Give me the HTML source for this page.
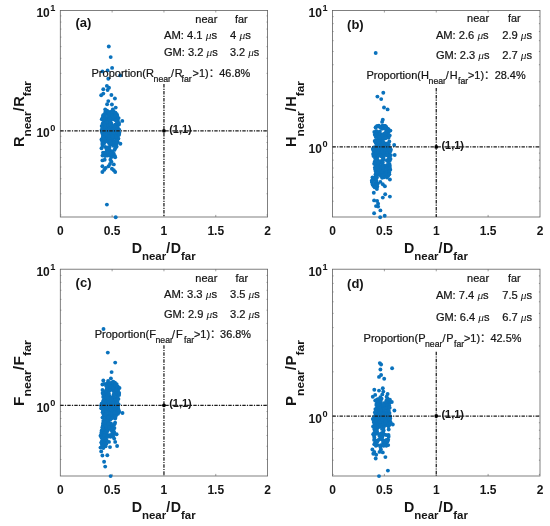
<!DOCTYPE html>
<html lang="en"><head><meta charset="utf-8"><title>Figure</title>
<style>
html,body{margin:0;padding:0;background:#fff;}
svg{display:block;font-family:"Liberation Sans", sans-serif;fill:#151515;}
.t{stroke:#151515;stroke-width:0.22px;}
</style></head><body>
<svg width="550" height="526" viewBox="0 0 550 526">
<rect width="550" height="526" fill="#fff"/>
<g id="panel-a">
<rect x="60.3" y="10.4" width="207.3" height="206.6" fill="none" stroke="#606060" stroke-width="0.8"/>
<path d="M112.12 217v-2.1M112.12 10.4v2.1M163.95 217v-2.1M163.95 10.4v2.1M215.78 217v-2.1M215.78 10.4v2.1M60.3 214.96h1.1M267.6 214.96h-1.1M60.3 193.75h1.1M267.6 193.75h-1.1M60.3 178.71h1.1M267.6 178.71h-1.1M60.3 167.04h1.1M267.6 167.04h-1.1M60.3 157.51h1.1M267.6 157.51h-1.1M60.3 149.45h1.1M267.6 149.45h-1.1M60.3 142.47h1.1M267.6 142.47h-1.1M60.3 136.31h1.1M267.6 136.31h-1.1M60.3 130.8h2.1M267.6 130.8h-2.1M60.3 94.56h1.1M267.6 94.56h-1.1M60.3 73.35h1.1M267.6 73.35h-1.1M60.3 58.31h1.1M267.6 58.31h-1.1M60.3 46.64h1.1M267.6 46.64h-1.1M60.3 37.11h1.1M267.6 37.11h-1.1M60.3 29.05h1.1M267.6 29.05h-1.1M60.3 22.07h1.1M267.6 22.07h-1.1M60.3 15.91h1.1M267.6 15.91h-1.1" stroke="#606060" stroke-width="0.6" fill="none"/>
<g fill="#0a72bd">
<circle cx="110.1" cy="131.4" r="1.95"/>
<circle cx="117.7" cy="130.6" r="1.95"/>
<circle cx="104.1" cy="154.3" r="1.95"/>
<circle cx="103.9" cy="130.2" r="1.95"/>
<circle cx="108.8" cy="133.6" r="1.95"/>
<circle cx="104.2" cy="121.3" r="1.95"/>
<circle cx="105.5" cy="111.6" r="1.95"/>
<circle cx="117.8" cy="136.4" r="1.95"/>
<circle cx="113.4" cy="119.2" r="1.95"/>
<circle cx="101.7" cy="126" r="1.95"/>
<circle cx="115.2" cy="143.5" r="1.95"/>
<circle cx="117.6" cy="141.6" r="1.95"/>
<circle cx="105.8" cy="137.8" r="1.95"/>
<circle cx="110.3" cy="137.9" r="1.95"/>
<circle cx="102.9" cy="136" r="1.95"/>
<circle cx="107.4" cy="130.9" r="1.95"/>
<circle cx="110.7" cy="128.8" r="1.95"/>
<circle cx="110" cy="112" r="1.95"/>
<circle cx="107.8" cy="118.5" r="1.95"/>
<circle cx="110.3" cy="156" r="1.95"/>
<circle cx="111.9" cy="131.9" r="1.95"/>
<circle cx="105" cy="136" r="1.95"/>
<circle cx="117.1" cy="134.6" r="1.95"/>
<circle cx="107" cy="126.6" r="1.95"/>
<circle cx="111.1" cy="139.5" r="1.95"/>
<circle cx="114.1" cy="114.5" r="1.95"/>
<circle cx="101.5" cy="139.5" r="1.95"/>
<circle cx="106.7" cy="113.9" r="1.95"/>
<circle cx="102.8" cy="123.3" r="1.95"/>
<circle cx="114.9" cy="131.7" r="1.95"/>
<circle cx="106.2" cy="132.5" r="1.95"/>
<circle cx="110.4" cy="120.3" r="1.95"/>
<circle cx="102.3" cy="143.9" r="1.95"/>
<circle cx="114.2" cy="135.8" r="1.95"/>
<circle cx="104" cy="140.6" r="1.95"/>
<circle cx="107.8" cy="137.3" r="1.95"/>
<circle cx="106.2" cy="139.8" r="1.95"/>
<circle cx="106" cy="154.1" r="1.95"/>
<circle cx="115.7" cy="129.9" r="1.95"/>
<circle cx="114.8" cy="134.2" r="1.95"/>
<circle cx="103.5" cy="125.8" r="1.95"/>
<circle cx="106.6" cy="120.5" r="1.95"/>
<circle cx="116" cy="138.4" r="1.95"/>
<circle cx="117.8" cy="127.7" r="1.95"/>
<circle cx="106.6" cy="124.1" r="1.95"/>
<circle cx="118.4" cy="138.6" r="1.95"/>
<circle cx="105.2" cy="147" r="1.95"/>
<circle cx="107.5" cy="155.5" r="1.95"/>
<circle cx="114.4" cy="141.2" r="1.95"/>
<circle cx="119" cy="124.6" r="1.95"/>
<circle cx="104.5" cy="114" r="1.95"/>
<circle cx="111.3" cy="113.9" r="1.95"/>
<circle cx="110" cy="150.5" r="1.95"/>
<circle cx="102.5" cy="133.8" r="1.95"/>
<circle cx="116.8" cy="114.2" r="1.95"/>
<circle cx="117.4" cy="125.4" r="1.95"/>
<circle cx="111.3" cy="135.7" r="1.95"/>
<circle cx="113.5" cy="129.9" r="1.95"/>
<circle cx="110.8" cy="133.8" r="1.95"/>
<circle cx="104.3" cy="133.5" r="1.95"/>
<circle cx="102.6" cy="146" r="1.95"/>
<circle cx="114.5" cy="149.9" r="1.95"/>
<circle cx="106.8" cy="134.4" r="1.95"/>
<circle cx="109" cy="153.4" r="1.95"/>
<circle cx="113.1" cy="138.6" r="1.95"/>
<circle cx="117.7" cy="120.2" r="1.95"/>
<circle cx="111.8" cy="125" r="1.95"/>
<circle cx="105.8" cy="129.1" r="1.95"/>
<circle cx="112.4" cy="151.4" r="1.95"/>
<circle cx="105.8" cy="118.5" r="1.95"/>
<circle cx="107.1" cy="110.8" r="1.95"/>
<circle cx="108.1" cy="150.4" r="1.95"/>
<circle cx="112.1" cy="144.6" r="1.95"/>
<circle cx="110" cy="145.1" r="1.95"/>
<circle cx="111.2" cy="117.7" r="1.95"/>
<circle cx="113.7" cy="111.6" r="1.95"/>
<circle cx="115.1" cy="124.8" r="1.95"/>
<circle cx="110" cy="115.3" r="1.95"/>
<circle cx="112" cy="153.1" r="1.95"/>
<circle cx="116" cy="117.7" r="1.95"/>
<circle cx="102.3" cy="141.4" r="1.95"/>
<circle cx="101.9" cy="132" r="1.95"/>
<circle cx="105.1" cy="116.1" r="1.95"/>
<circle cx="113.1" cy="155.5" r="1.95"/>
<circle cx="112.2" cy="126.8" r="1.95"/>
<circle cx="108.5" cy="141.3" r="1.95"/>
<circle cx="115.2" cy="145.4" r="1.95"/>
<circle cx="117.2" cy="132.3" r="1.95"/>
<circle cx="102.5" cy="127.8" r="1.95"/>
<circle cx="115.7" cy="127.4" r="1.95"/>
<circle cx="102.8" cy="117.5" r="1.95"/>
<circle cx="111.2" cy="122.9" r="1.95"/>
<circle cx="115.3" cy="148.3" r="1.95"/>
<circle cx="109.4" cy="147.4" r="1.95"/>
<circle cx="109.8" cy="126.2" r="1.95"/>
<circle cx="104.9" cy="123.5" r="1.95"/>
<circle cx="108.2" cy="116.7" r="1.95"/>
<circle cx="106.5" cy="151.7" r="1.95"/>
<circle cx="105.1" cy="156.1" r="1.95"/>
<circle cx="102.5" cy="155.6" r="1.95"/>
<circle cx="107.9" cy="128.6" r="1.95"/>
<circle cx="104" cy="143.4" r="1.95"/>
<circle cx="108.4" cy="123.2" r="1.95"/>
<circle cx="119.4" cy="132.7" r="1.95"/>
<circle cx="116.6" cy="146.5" r="1.95"/>
<circle cx="112.2" cy="141.3" r="1.95"/>
<circle cx="108.9" cy="143" r="1.95"/>
<circle cx="113.3" cy="145.8" r="1.95"/>
<circle cx="112.6" cy="115.9" r="1.95"/>
<circle cx="108.7" cy="114.1" r="1.95"/>
<circle cx="102.7" cy="137.8" r="1.95"/>
<circle cx="103" cy="152.8" r="1.95"/>
<circle cx="109.3" cy="136.2" r="1.95"/>
<circle cx="116.6" cy="123.7" r="1.95"/>
<circle cx="113.3" cy="143" r="1.95"/>
<circle cx="113.9" cy="117.2" r="1.95"/>
<circle cx="109.6" cy="118.7" r="1.95"/>
<circle cx="118.6" cy="118.1" r="1.95"/>
<circle cx="115.6" cy="120.2" r="1.95"/>
<circle cx="117.3" cy="115.9" r="1.95"/>
<circle cx="108.6" cy="139.5" r="1.95"/>
<circle cx="104.8" cy="152.6" r="1.95"/>
<circle cx="105.2" cy="127" r="1.95"/>
<circle cx="117.4" cy="122.1" r="1.95"/>
<circle cx="108.5" cy="120.5" r="1.95"/>
<circle cx="103.1" cy="115.3" r="1.95"/>
<circle cx="105.8" cy="141.5" r="1.95"/>
<circle cx="107.5" cy="147.5" r="1.95"/>
<circle cx="111.9" cy="111.4" r="1.95"/>
<circle cx="113.8" cy="128.1" r="1.95"/>
<circle cx="116.9" cy="140" r="1.95"/>
<circle cx="119.1" cy="134.8" r="1.95"/>
<circle cx="101.7" cy="129.8" r="1.95"/>
<circle cx="110.7" cy="143" r="1.95"/>
<circle cx="101.5" cy="148.2" r="1.95"/>
<circle cx="103.7" cy="119.6" r="1.95"/>
<circle cx="112.6" cy="134.5" r="1.95"/>
<circle cx="113.8" cy="153.7" r="1.95"/>
<circle cx="114.2" cy="126.3" r="1.95"/>
<circle cx="115.5" cy="112.8" r="1.95"/>
<circle cx="108.3" cy="125.2" r="1.95"/>
<circle cx="119.2" cy="129.6" r="1.95"/>
<circle cx="101.8" cy="119.3" r="1.95"/>
<circle cx="115.8" cy="136.6" r="1.95"/>
<circle cx="114.8" cy="156" r="1.95"/>
<circle cx="108.2" cy="112.2" r="1.95"/>
<circle cx="115.5" cy="115.5" r="1.95"/>
<circle cx="110.3" cy="141.1" r="1.95"/>
<circle cx="109.7" cy="121.9" r="1.95"/>
<circle cx="106.9" cy="122.3" r="1.95"/>
<circle cx="104.2" cy="138.9" r="1.95"/>
<circle cx="106.8" cy="149.2" r="1.95"/>
<circle cx="116.9" cy="143.3" r="1.95"/>
<circle cx="111.9" cy="156.9" r="1.95"/>
<circle cx="113.5" cy="132.9" r="1.95"/>
<circle cx="112.7" cy="136.8" r="1.95"/>
<circle cx="110.7" cy="154.3" r="1.95"/>
<circle cx="109" cy="130.1" r="1.95"/>
<circle cx="119" cy="122.9" r="1.95"/>
<circle cx="110.2" cy="124.4" r="1.95"/>
<circle cx="108.8" cy="46.5" r="1.95"/>
<circle cx="110.7" cy="57.1" r="1.95"/>
<circle cx="112.1" cy="67.9" r="1.95"/>
<circle cx="107.6" cy="70.4" r="1.95"/>
<circle cx="102.4" cy="71.4" r="1.95"/>
<circle cx="120.2" cy="75.4" r="1.95"/>
<circle cx="108.3" cy="78.8" r="1.95"/>
<circle cx="106.9" cy="85.9" r="1.95"/>
<circle cx="109" cy="87.8" r="1.95"/>
<circle cx="103.3" cy="89.2" r="1.95"/>
<circle cx="107.6" cy="90" r="1.95"/>
<circle cx="103.3" cy="93.6" r="1.95"/>
<circle cx="101.2" cy="95.2" r="1.95"/>
<circle cx="111.4" cy="95" r="1.95"/>
<circle cx="114.9" cy="98.5" r="1.95"/>
<circle cx="108.3" cy="101.1" r="1.95"/>
<circle cx="107.1" cy="104.2" r="1.95"/>
<circle cx="111.9" cy="104.5" r="1.95"/>
<circle cx="115.7" cy="107.6" r="1.95"/>
<circle cx="105.2" cy="109.5" r="1.95"/>
<circle cx="112.8" cy="109.5" r="1.95"/>
<circle cx="122.3" cy="120.9" r="1.95"/>
<circle cx="120.4" cy="143.7" r="1.95"/>
<circle cx="115.2" cy="157.3" r="1.95"/>
<circle cx="102.4" cy="160.4" r="1.95"/>
<circle cx="104.7" cy="159.7" r="1.95"/>
<circle cx="110.4" cy="159.7" r="1.95"/>
<circle cx="111.4" cy="161.6" r="1.95"/>
<circle cx="110" cy="164" r="1.95"/>
<circle cx="113.8" cy="164.4" r="1.95"/>
<circle cx="102.4" cy="166.3" r="1.95"/>
<circle cx="108.5" cy="166.3" r="1.95"/>
<circle cx="105.7" cy="168" r="1.95"/>
<circle cx="111.9" cy="168.7" r="1.95"/>
<circle cx="104.3" cy="169.7" r="1.95"/>
<circle cx="113.8" cy="170.2" r="1.95"/>
<circle cx="102.4" cy="172" r="1.95"/>
<circle cx="115.2" cy="172" r="1.95"/>
<circle cx="106.9" cy="204.6" r="1.95"/>
<circle cx="115.7" cy="217.2" r="1.95"/>
</g>
<path d="M60.3 130.8H267.6M163.95 84.1V217" stroke="#1c1c1c" stroke-width="1.25" stroke-dasharray="3.4 1.2 1.2 1.2" fill="none"/>
<circle cx="163.95" cy="130.8" r="1.9" fill="#000"/>
<text x="169.15" y="132.8" font-size="11" font-weight="bold" textLength="22.6" lengthAdjust="spacingAndGlyphs">(1,1)</text>
<text x="60.3" y="234.5" font-size="12" font-weight="bold" text-anchor="middle">0</text>
<text x="112.12" y="234.5" font-size="12" font-weight="bold" text-anchor="middle">0.5</text>
<text x="163.95" y="234.5" font-size="12" font-weight="bold" text-anchor="middle">1</text>
<text x="215.78" y="234.5" font-size="12" font-weight="bold" text-anchor="middle">1.5</text>
<text x="267.6" y="234.5" font-size="12" font-weight="bold" text-anchor="middle">2</text>
<text x="36.4" y="16.9" font-size="12" font-weight="bold">10<tspan font-size="9.2" dx="0.5" dy="-6">1</tspan></text>
<text x="36.4" y="137.3" font-size="12" font-weight="bold">10<tspan font-size="9.2" dx="0.5" dy="-6">0</tspan></text>
<text x="131.65" y="253.2" font-size="14" font-weight="bold" textLength="64" lengthAdjust="spacingAndGlyphs">D<tspan font-size="11.3" dy="7.2">near</tspan><tspan dy="-7.2">/<tspan dx="0.5">D</tspan></tspan><tspan font-size="11.3" dy="7.2">far</tspan></text>
<text transform="translate(24.1 147.1) rotate(-90)" font-size="14" font-weight="bold" textLength="66" lengthAdjust="spacingAndGlyphs">R<tspan font-size="11.3" dy="7.2">near</tspan><tspan dy="-7.2">/<tspan dx="0.5">R</tspan></tspan><tspan font-size="11.3" dy="7.2">far</tspan></text>
<text x="75.4" y="26.9" font-size="13" font-weight="bold">(a)</text>
<g class="t">
<text x="195.3" y="22.8" font-size="10.67" textLength="22" lengthAdjust="spacingAndGlyphs">near</text>
<text x="234.9" y="22.8" font-size="10.67" textLength="12.6" lengthAdjust="spacingAndGlyphs">far</text>
<text x="163.9" y="38.8" font-size="10.67" textLength="53.2" lengthAdjust="spacingAndGlyphs">AM: 4.1 <tspan font-family="'Liberation Serif', serif" font-style="italic" font-size="10.9" stroke="none">μ</tspan>s</text>
<text x="230" y="38.8" font-size="10.67" textLength="20.8" lengthAdjust="spacingAndGlyphs">4 <tspan font-family="'Liberation Serif', serif" font-style="italic" font-size="10.9" stroke="none">μ</tspan>s</text>
<text x="163.9" y="55.8" font-size="10.67" textLength="53.8" lengthAdjust="spacingAndGlyphs">GM: 3.2 <tspan font-family="'Liberation Serif', serif" font-style="italic" font-size="10.9" stroke="none">μ</tspan>s</text>
<text x="230" y="55.8" font-size="10.67" textLength="29.2" lengthAdjust="spacingAndGlyphs">3.2 <tspan font-family="'Liberation Serif', serif" font-style="italic" font-size="10.9" stroke="none">μ</tspan>s</text>
<text y="77.1" font-size="10.9"><tspan x="91.5" textLength="62.52" lengthAdjust="spacingAndGlyphs">Proportion(R</tspan><tspan x="153.6" dy="4.9" font-size="8.7">near</tspan><tspan x="170.9" dy="-4.9">/<tspan dx="0.9">R</tspan></tspan><tspan x="181.6" dy="4.9" font-size="8.7">far</tspan><tspan x="192.6" dy="-4.9">&gt;1)<tspan font-family="'Liberation Sans', 'Noto Sans CJK SC', sans-serif">：</tspan></tspan><tspan x="219.3">46.8%</tspan></text>
</g>
</g>
<g id="panel-b">
<rect x="332.5" y="10.4" width="207.5" height="206.6" fill="none" stroke="#606060" stroke-width="0.8"/>
<path d="M384.38 217v-2.1M384.38 10.4v2.1M436.25 217v-2.1M436.25 10.4v2.1M488.12 217v-2.1M488.12 10.4v2.1M332.5 201.22h1.1M540 201.22h-1.1M332.5 187.99h1.1M540 187.99h-1.1M332.5 177.18h1.1M540 177.18h-1.1M332.5 168.04h1.1M540 168.04h-1.1M332.5 160.13h1.1M540 160.13h-1.1M332.5 153.15h1.1M540 153.15h-1.1M332.5 146.9h2.1M540 146.9h-2.1M332.5 105.81h1.1M540 105.81h-1.1M332.5 81.77h1.1M540 81.77h-1.1M332.5 64.72h1.1M540 64.72h-1.1M332.5 51.49h1.1M540 51.49h-1.1M332.5 40.68h1.1M540 40.68h-1.1M332.5 31.54h1.1M540 31.54h-1.1M332.5 23.63h1.1M540 23.63h-1.1M332.5 16.65h1.1M540 16.65h-1.1" stroke="#606060" stroke-width="0.6" fill="none"/>
<g fill="#0a72bd">
<circle cx="389.5" cy="164.1" r="1.95"/>
<circle cx="383.8" cy="133.9" r="1.95"/>
<circle cx="380.3" cy="146.2" r="1.95"/>
<circle cx="387" cy="177.6" r="1.95"/>
<circle cx="380.6" cy="139.6" r="1.95"/>
<circle cx="381.1" cy="142.3" r="1.95"/>
<circle cx="379.2" cy="172.2" r="1.95"/>
<circle cx="382.5" cy="154.9" r="1.95"/>
<circle cx="377.9" cy="132.8" r="1.95"/>
<circle cx="382.1" cy="177.8" r="1.95"/>
<circle cx="385.9" cy="135.1" r="1.95"/>
<circle cx="387.2" cy="173" r="1.95"/>
<circle cx="387.9" cy="166.9" r="1.95"/>
<circle cx="381" cy="153.3" r="1.95"/>
<circle cx="381.7" cy="173.9" r="1.95"/>
<circle cx="381.9" cy="169.1" r="1.95"/>
<circle cx="383.4" cy="173.7" r="1.95"/>
<circle cx="387" cy="151.1" r="1.95"/>
<circle cx="375.6" cy="142.6" r="1.95"/>
<circle cx="377.6" cy="136.5" r="1.95"/>
<circle cx="387.5" cy="128.7" r="1.95"/>
<circle cx="375.7" cy="171.4" r="1.95"/>
<circle cx="380.1" cy="163.1" r="1.95"/>
<circle cx="374.7" cy="161.7" r="1.95"/>
<circle cx="381.3" cy="137.4" r="1.95"/>
<circle cx="372.8" cy="149" r="1.95"/>
<circle cx="383.8" cy="146.2" r="1.95"/>
<circle cx="375.8" cy="148.9" r="1.95"/>
<circle cx="376.2" cy="156.5" r="1.95"/>
<circle cx="384.7" cy="167.4" r="1.95"/>
<circle cx="379.8" cy="131.4" r="1.95"/>
<circle cx="375.8" cy="137" r="1.95"/>
<circle cx="382.4" cy="149.9" r="1.95"/>
<circle cx="383.7" cy="128.3" r="1.95"/>
<circle cx="388.8" cy="144.8" r="1.95"/>
<circle cx="389.7" cy="160.8" r="1.95"/>
<circle cx="379.9" cy="151" r="1.95"/>
<circle cx="379" cy="174.5" r="1.95"/>
<circle cx="387.7" cy="146.3" r="1.95"/>
<circle cx="385.1" cy="175.8" r="1.95"/>
<circle cx="386.3" cy="126.9" r="1.95"/>
<circle cx="378.7" cy="149.5" r="1.95"/>
<circle cx="389.1" cy="130.7" r="1.95"/>
<circle cx="373.8" cy="147.4" r="1.95"/>
<circle cx="373.1" cy="153.9" r="1.95"/>
<circle cx="390.9" cy="149.7" r="1.95"/>
<circle cx="380.6" cy="127.2" r="1.95"/>
<circle cx="384.1" cy="171.7" r="1.95"/>
<circle cx="374.6" cy="152.3" r="1.95"/>
<circle cx="387.9" cy="170.1" r="1.95"/>
<circle cx="388" cy="136.1" r="1.95"/>
<circle cx="374.9" cy="167.6" r="1.95"/>
<circle cx="381.6" cy="160.9" r="1.95"/>
<circle cx="378.1" cy="139.6" r="1.95"/>
<circle cx="380.6" cy="171.1" r="1.95"/>
<circle cx="389.3" cy="141.5" r="1.95"/>
<circle cx="388.7" cy="158.5" r="1.95"/>
<circle cx="376.8" cy="175.7" r="1.95"/>
<circle cx="379.1" cy="144.7" r="1.95"/>
<circle cx="380.9" cy="134.3" r="1.95"/>
<circle cx="388.6" cy="137.8" r="1.95"/>
<circle cx="379.6" cy="168.6" r="1.95"/>
<circle cx="387.4" cy="164.9" r="1.95"/>
<circle cx="377.1" cy="158.1" r="1.95"/>
<circle cx="385.8" cy="144.8" r="1.95"/>
<circle cx="387.9" cy="148.4" r="1.95"/>
<circle cx="384.4" cy="143.2" r="1.95"/>
<circle cx="379" cy="165.7" r="1.95"/>
<circle cx="389.9" cy="148.1" r="1.95"/>
<circle cx="388.3" cy="132.6" r="1.95"/>
<circle cx="377.7" cy="169.4" r="1.95"/>
<circle cx="376" cy="150.8" r="1.95"/>
<circle cx="381.9" cy="128.8" r="1.95"/>
<circle cx="389.2" cy="152.9" r="1.95"/>
<circle cx="386" cy="171.4" r="1.95"/>
<circle cx="384.8" cy="136.6" r="1.95"/>
<circle cx="379.1" cy="141.2" r="1.95"/>
<circle cx="380.3" cy="148" r="1.95"/>
<circle cx="389" cy="155" r="1.95"/>
<circle cx="383.7" cy="159.3" r="1.95"/>
<circle cx="385" cy="154.1" r="1.95"/>
<circle cx="378.1" cy="153.7" r="1.95"/>
<circle cx="388.1" cy="161.8" r="1.95"/>
<circle cx="387" cy="143.5" r="1.95"/>
<circle cx="385.2" cy="151.5" r="1.95"/>
<circle cx="386.5" cy="153" r="1.95"/>
<circle cx="382.8" cy="157.8" r="1.95"/>
<circle cx="377.6" cy="160.1" r="1.95"/>
<circle cx="383.5" cy="138.7" r="1.95"/>
<circle cx="375.5" cy="164.8" r="1.95"/>
<circle cx="376.1" cy="162.8" r="1.95"/>
<circle cx="380.9" cy="175.9" r="1.95"/>
<circle cx="384.6" cy="165.6" r="1.95"/>
<circle cx="390.5" cy="159" r="1.95"/>
<circle cx="378.7" cy="135" r="1.95"/>
<circle cx="375" cy="154.5" r="1.95"/>
<circle cx="389.2" cy="172.5" r="1.95"/>
<circle cx="382.1" cy="172.2" r="1.95"/>
<circle cx="382.3" cy="164.1" r="1.95"/>
<circle cx="383" cy="141.4" r="1.95"/>
<circle cx="376.3" cy="140.2" r="1.95"/>
<circle cx="389.8" cy="165.8" r="1.95"/>
<circle cx="388.2" cy="175.8" r="1.95"/>
<circle cx="377.2" cy="166.9" r="1.95"/>
<circle cx="375.2" cy="169.5" r="1.95"/>
<circle cx="383.9" cy="169.6" r="1.95"/>
<circle cx="377.1" cy="125.9" r="1.95"/>
<circle cx="381.1" cy="166.7" r="1.95"/>
<circle cx="383.4" cy="152.7" r="1.95"/>
<circle cx="386.1" cy="129.9" r="1.95"/>
<circle cx="386.6" cy="168.2" r="1.95"/>
<circle cx="383.8" cy="148.2" r="1.95"/>
<circle cx="382.8" cy="167.5" r="1.95"/>
<circle cx="376" cy="147" r="1.95"/>
<circle cx="386.5" cy="131.7" r="1.95"/>
<circle cx="390.8" cy="155.1" r="1.95"/>
<circle cx="379.8" cy="154.9" r="1.95"/>
<circle cx="376.6" cy="131.1" r="1.95"/>
<circle cx="385.5" cy="138.3" r="1.95"/>
<circle cx="376.9" cy="134.7" r="1.95"/>
<circle cx="376.4" cy="145" r="1.95"/>
<circle cx="385.6" cy="173.9" r="1.95"/>
<circle cx="377.7" cy="143.4" r="1.95"/>
<circle cx="375.5" cy="174.4" r="1.95"/>
<circle cx="377.3" cy="164.2" r="1.95"/>
<circle cx="373.5" cy="150.7" r="1.95"/>
<circle cx="378.3" cy="147.7" r="1.95"/>
<circle cx="390.3" cy="169.7" r="1.95"/>
<circle cx="385.9" cy="147.2" r="1.95"/>
<circle cx="389.3" cy="174.3" r="1.95"/>
<circle cx="383.2" cy="144.5" r="1.95"/>
<circle cx="388.7" cy="150.3" r="1.95"/>
<circle cx="375.2" cy="158.4" r="1.95"/>
<circle cx="382.2" cy="135.7" r="1.95"/>
<circle cx="378.9" cy="125.8" r="1.95"/>
<circle cx="379.7" cy="161.4" r="1.95"/>
<circle cx="376.2" cy="153" r="1.95"/>
<circle cx="382.5" cy="125.7" r="1.95"/>
<circle cx="382.9" cy="162.1" r="1.95"/>
<circle cx="386.9" cy="160.4" r="1.95"/>
<circle cx="384" cy="177.2" r="1.95"/>
<circle cx="385.2" cy="149.7" r="1.95"/>
<circle cx="382.8" cy="175.3" r="1.95"/>
<circle cx="373.5" cy="156" r="1.95"/>
<circle cx="378.1" cy="162.5" r="1.95"/>
<circle cx="376.9" cy="177.6" r="1.95"/>
<circle cx="375.1" cy="177.8" r="1.95"/>
<circle cx="375.9" cy="132.9" r="1.95"/>
<circle cx="377.4" cy="172.8" r="1.95"/>
<circle cx="378.3" cy="156.1" r="1.95"/>
<circle cx="378.2" cy="151.7" r="1.95"/>
<circle cx="383.8" cy="156.3" r="1.95"/>
<circle cx="379.4" cy="137.2" r="1.95"/>
<circle cx="389.8" cy="156.8" r="1.95"/>
<circle cx="389.8" cy="167.7" r="1.95"/>
<circle cx="382.2" cy="147.1" r="1.95"/>
<circle cx="381.2" cy="144.6" r="1.95"/>
<circle cx="387" cy="155.2" r="1.95"/>
<circle cx="384.7" cy="126" r="1.95"/>
<circle cx="381.8" cy="151.6" r="1.95"/>
<circle cx="375.7" cy="160.1" r="1.95"/>
<circle cx="387.5" cy="134.2" r="1.95"/>
<circle cx="389.7" cy="135.5" r="1.95"/>
<circle cx="374.2" cy="163.7" r="1.95"/>
<circle cx="381.4" cy="156.3" r="1.95"/>
<circle cx="374.8" cy="134.7" r="1.95"/>
<circle cx="377.4" cy="141.7" r="1.95"/>
<circle cx="379.4" cy="142.9" r="1.95"/>
<circle cx="390.2" cy="151.4" r="1.95"/>
<circle cx="375.7" cy="127.3" r="1.95"/>
<circle cx="385.3" cy="133" r="1.95"/>
<circle cx="374.7" cy="140.9" r="1.95"/>
<circle cx="375.7" cy="53" r="1.95"/>
<circle cx="383.3" cy="92.8" r="1.95"/>
<circle cx="377.4" cy="96.6" r="1.95"/>
<circle cx="381.2" cy="99.1" r="1.95"/>
<circle cx="384" cy="107.5" r="1.95"/>
<circle cx="387.6" cy="109.4" r="1.95"/>
<circle cx="382.8" cy="119.7" r="1.95"/>
<circle cx="382.1" cy="121.9" r="1.95"/>
<circle cx="385.2" cy="125.9" r="1.95"/>
<circle cx="379.5" cy="126.8" r="1.95"/>
<circle cx="375.7" cy="127.8" r="1.95"/>
<circle cx="388.5" cy="129.2" r="1.95"/>
<circle cx="390.4" cy="130.6" r="1.95"/>
<circle cx="374.3" cy="132" r="1.95"/>
<circle cx="394.2" cy="145" r="1.95"/>
<circle cx="394.7" cy="155" r="1.95"/>
<circle cx="389.9" cy="179.5" r="1.95"/>
<circle cx="372.5" cy="177.5" r="1.95"/>
<circle cx="374" cy="180" r="1.95"/>
<circle cx="372" cy="182.3" r="1.95"/>
<circle cx="375.5" cy="183" r="1.95"/>
<circle cx="373.5" cy="186" r="1.95"/>
<circle cx="377.3" cy="186.5" r="1.95"/>
<circle cx="372.8" cy="179.5" r="1.95"/>
<circle cx="376.5" cy="181" r="1.95"/>
<circle cx="371.8" cy="180.8" r="1.95"/>
<circle cx="374.2" cy="178" r="1.95"/>
<circle cx="376" cy="178.8" r="1.95"/>
<circle cx="377.8" cy="183.6" r="1.95"/>
<circle cx="375.6" cy="185.4" r="1.95"/>
<circle cx="372.6" cy="184.6" r="1.95"/>
<circle cx="374.8" cy="187.4" r="1.95"/>
<circle cx="376.2" cy="176.8" r="1.95"/>
<circle cx="380.4" cy="181.9" r="1.95"/>
<circle cx="382.8" cy="184.3" r="1.95"/>
<circle cx="384.9" cy="186.2" r="1.95"/>
<circle cx="376.9" cy="189" r="1.95"/>
<circle cx="373.8" cy="192.8" r="1.95"/>
<circle cx="385.2" cy="194.2" r="1.95"/>
<circle cx="389.9" cy="196.6" r="1.95"/>
<circle cx="382.8" cy="197.6" r="1.95"/>
<circle cx="374.1" cy="200.4" r="1.95"/>
<circle cx="377.1" cy="200.9" r="1.95"/>
<circle cx="378.1" cy="203.7" r="1.95"/>
<circle cx="376" cy="206.1" r="1.95"/>
<circle cx="378.1" cy="206.6" r="1.95"/>
<circle cx="380.4" cy="210.4" r="1.95"/>
<circle cx="374.1" cy="213.3" r="1.95"/>
<circle cx="384.7" cy="215.8" r="1.95"/>
<circle cx="380.2" cy="217.2" r="1.95"/>
</g>
<path d="M332.5 146.9H540M436.25 88V217" stroke="#1c1c1c" stroke-width="1.25" stroke-dasharray="3.4 1.2 1.2 1.2" fill="none"/>
<circle cx="436.25" cy="146.9" r="1.9" fill="#000"/>
<text x="441.45" y="148.9" font-size="11" font-weight="bold" textLength="22.6" lengthAdjust="spacingAndGlyphs">(1,1)</text>
<text x="332.5" y="234.5" font-size="12" font-weight="bold" text-anchor="middle">0</text>
<text x="384.38" y="234.5" font-size="12" font-weight="bold" text-anchor="middle">0.5</text>
<text x="436.25" y="234.5" font-size="12" font-weight="bold" text-anchor="middle">1</text>
<text x="488.12" y="234.5" font-size="12" font-weight="bold" text-anchor="middle">1.5</text>
<text x="540" y="234.5" font-size="12" font-weight="bold" text-anchor="middle">2</text>
<text x="308.6" y="16.9" font-size="12" font-weight="bold">10<tspan font-size="9.2" dx="0.5" dy="-6">1</tspan></text>
<text x="308.6" y="153.4" font-size="12" font-weight="bold">10<tspan font-size="9.2" dx="0.5" dy="-6">0</tspan></text>
<text x="403.95" y="253.2" font-size="14" font-weight="bold" textLength="64" lengthAdjust="spacingAndGlyphs">D<tspan font-size="11.3" dy="7.2">near</tspan><tspan dy="-7.2">/<tspan dx="0.5">D</tspan></tspan><tspan font-size="11.3" dy="7.2">far</tspan></text>
<text transform="translate(296.3 147.1) rotate(-90)" font-size="14" font-weight="bold" textLength="66" lengthAdjust="spacingAndGlyphs">H<tspan font-size="11.3" dy="7.2">near</tspan><tspan dy="-7.2">/<tspan dx="0.5">H</tspan></tspan><tspan font-size="11.3" dy="7.2">far</tspan></text>
<text x="347.1" y="28.6" font-size="13" font-weight="bold">(b)</text>
<g class="t">
<text x="467.1" y="22.4" font-size="10.67" textLength="22" lengthAdjust="spacingAndGlyphs">near</text>
<text x="507.9" y="22.4" font-size="10.67" textLength="12.6" lengthAdjust="spacingAndGlyphs">far</text>
<text x="435.9" y="39.1" font-size="10.67" textLength="52.8" lengthAdjust="spacingAndGlyphs">AM: 2.6 <tspan font-family="'Liberation Serif', serif" font-style="italic" font-size="10.9" stroke="none">μ</tspan>s</text>
<text x="502.2" y="39.1" font-size="10.67" textLength="30" lengthAdjust="spacingAndGlyphs">2.9 <tspan font-family="'Liberation Serif', serif" font-style="italic" font-size="10.9" stroke="none">μ</tspan>s</text>
<text x="435.9" y="58.6" font-size="10.67" textLength="53.6" lengthAdjust="spacingAndGlyphs">GM: 2.3 <tspan font-family="'Liberation Serif', serif" font-style="italic" font-size="10.9" stroke="none">μ</tspan>s</text>
<text x="502.2" y="58.6" font-size="10.67" textLength="30" lengthAdjust="spacingAndGlyphs">2.7 <tspan font-family="'Liberation Serif', serif" font-style="italic" font-size="10.9" stroke="none">μ</tspan>s</text>
<text y="79.4" font-size="10.9"><tspan x="366.4" textLength="62.52" lengthAdjust="spacingAndGlyphs">Proportion(H</tspan><tspan x="428.6" dy="4.9" font-size="8.7">near</tspan><tspan x="445.8" dy="-4.9">/<tspan dx="0.9">H</tspan></tspan><tspan x="458.1" dy="4.9" font-size="8.7">far</tspan><tspan x="468" dy="-4.9">&gt;1)<tspan font-family="'Liberation Sans', 'Noto Sans CJK SC', sans-serif">：</tspan></tspan><tspan x="494.7">28.4%</tspan></text>
</g>
</g>
<g id="panel-c">
<rect x="60.3" y="269.2" width="207.3" height="206.8" fill="none" stroke="#606060" stroke-width="0.8"/>
<path d="M112.12 476v-2.1M112.12 269.2v2.1M163.95 476v-2.1M163.95 269.2v2.1M215.78 476v-2.1M215.78 269.2v2.1M60.3 459.46h1.1M267.6 459.46h-1.1M60.3 446.27h1.1M267.6 446.27h-1.1M60.3 435.49h1.1M267.6 435.49h-1.1M60.3 426.38h1.1M267.6 426.38h-1.1M60.3 418.49h1.1M267.6 418.49h-1.1M60.3 411.53h1.1M267.6 411.53h-1.1M60.3 405.3h2.1M267.6 405.3h-2.1M60.3 364.33h1.1M267.6 364.33h-1.1M60.3 340.36h1.1M267.6 340.36h-1.1M60.3 323.36h1.1M267.6 323.36h-1.1M60.3 310.17h1.1M267.6 310.17h-1.1M60.3 299.39h1.1M267.6 299.39h-1.1M60.3 290.28h1.1M267.6 290.28h-1.1M60.3 282.39h1.1M267.6 282.39h-1.1M60.3 275.43h1.1M267.6 275.43h-1.1" stroke="#606060" stroke-width="0.6" fill="none"/>
<g fill="#0a72bd">
<circle cx="104.4" cy="412.1" r="1.95"/>
<circle cx="107.4" cy="415.4" r="1.95"/>
<circle cx="113.3" cy="386.2" r="1.95"/>
<circle cx="104.9" cy="395.3" r="1.95"/>
<circle cx="118.1" cy="408.5" r="1.95"/>
<circle cx="113.6" cy="390.8" r="1.95"/>
<circle cx="113.5" cy="429.7" r="1.95"/>
<circle cx="116.3" cy="414.7" r="1.95"/>
<circle cx="105.9" cy="384.3" r="1.95"/>
<circle cx="108" cy="426.1" r="1.95"/>
<circle cx="113.3" cy="399" r="1.95"/>
<circle cx="110.6" cy="403.6" r="1.95"/>
<circle cx="112.3" cy="431.7" r="1.95"/>
<circle cx="115.3" cy="394.1" r="1.95"/>
<circle cx="118" cy="413.7" r="1.95"/>
<circle cx="108.4" cy="390.8" r="1.95"/>
<circle cx="105.7" cy="424.3" r="1.95"/>
<circle cx="115.4" cy="400.6" r="1.95"/>
<circle cx="110.5" cy="436.8" r="1.95"/>
<circle cx="112.7" cy="384.3" r="1.95"/>
<circle cx="103.5" cy="404.8" r="1.95"/>
<circle cx="106.2" cy="434.6" r="1.95"/>
<circle cx="109.5" cy="410.8" r="1.95"/>
<circle cx="113.7" cy="414.9" r="1.95"/>
<circle cx="111.8" cy="416.3" r="1.95"/>
<circle cx="108.8" cy="421.7" r="1.95"/>
<circle cx="104.4" cy="399" r="1.95"/>
<circle cx="113.3" cy="407.9" r="1.95"/>
<circle cx="115.1" cy="422.7" r="1.95"/>
<circle cx="104.7" cy="407.4" r="1.95"/>
<circle cx="107.3" cy="399.6" r="1.95"/>
<circle cx="105.8" cy="403.1" r="1.95"/>
<circle cx="116.6" cy="384.1" r="1.95"/>
<circle cx="117.3" cy="395.6" r="1.95"/>
<circle cx="114.9" cy="388.2" r="1.95"/>
<circle cx="118" cy="406.4" r="1.95"/>
<circle cx="106.7" cy="417.9" r="1.95"/>
<circle cx="117.4" cy="401.4" r="1.95"/>
<circle cx="117.1" cy="397.3" r="1.95"/>
<circle cx="106.9" cy="405.2" r="1.95"/>
<circle cx="114.1" cy="410.8" r="1.95"/>
<circle cx="105.6" cy="401.1" r="1.95"/>
<circle cx="113" cy="401.1" r="1.95"/>
<circle cx="104.8" cy="429.4" r="1.95"/>
<circle cx="109.9" cy="425.1" r="1.95"/>
<circle cx="107" cy="393.3" r="1.95"/>
<circle cx="111.2" cy="426.9" r="1.95"/>
<circle cx="102.9" cy="425.6" r="1.95"/>
<circle cx="108.6" cy="408.3" r="1.95"/>
<circle cx="103.4" cy="400.5" r="1.95"/>
<circle cx="115.3" cy="403.3" r="1.95"/>
<circle cx="108.8" cy="402.8" r="1.95"/>
<circle cx="109.5" cy="395.9" r="1.95"/>
<circle cx="114.4" cy="428" r="1.95"/>
<circle cx="116.5" cy="410.4" r="1.95"/>
<circle cx="104.5" cy="392.4" r="1.95"/>
<circle cx="104.7" cy="416" r="1.95"/>
<circle cx="116" cy="391.3" r="1.95"/>
<circle cx="110" cy="417.5" r="1.95"/>
<circle cx="103.2" cy="397.1" r="1.95"/>
<circle cx="103.5" cy="414.4" r="1.95"/>
<circle cx="105.7" cy="420.9" r="1.95"/>
<circle cx="108.4" cy="428.9" r="1.95"/>
<circle cx="112.3" cy="397.1" r="1.95"/>
<circle cx="104" cy="383.9" r="1.95"/>
<circle cx="102.9" cy="402.2" r="1.95"/>
<circle cx="109.9" cy="415.1" r="1.95"/>
<circle cx="118.5" cy="404.3" r="1.95"/>
<circle cx="103.3" cy="420.9" r="1.95"/>
<circle cx="111.4" cy="389.1" r="1.95"/>
<circle cx="101.6" cy="430.7" r="1.95"/>
<circle cx="110.3" cy="401.7" r="1.95"/>
<circle cx="113.7" cy="416.8" r="1.95"/>
<circle cx="112.6" cy="412.7" r="1.95"/>
<circle cx="111" cy="413.5" r="1.95"/>
<circle cx="110.9" cy="407.6" r="1.95"/>
<circle cx="111.9" cy="434.6" r="1.95"/>
<circle cx="102.7" cy="409.6" r="1.95"/>
<circle cx="107.5" cy="411.3" r="1.95"/>
<circle cx="109.2" cy="404.7" r="1.95"/>
<circle cx="115" cy="385.4" r="1.95"/>
<circle cx="101.6" cy="403.8" r="1.95"/>
<circle cx="102.5" cy="417.6" r="1.95"/>
<circle cx="104.2" cy="435.1" r="1.95"/>
<circle cx="112.8" cy="425.4" r="1.95"/>
<circle cx="117.8" cy="388.7" r="1.95"/>
<circle cx="103.5" cy="431.1" r="1.95"/>
<circle cx="104.1" cy="427.6" r="1.95"/>
<circle cx="109.2" cy="388.7" r="1.95"/>
<circle cx="117.6" cy="393.8" r="1.95"/>
<circle cx="106.9" cy="408.9" r="1.95"/>
<circle cx="115.8" cy="405.6" r="1.95"/>
<circle cx="111.2" cy="405.3" r="1.95"/>
<circle cx="115.5" cy="398.6" r="1.95"/>
<circle cx="106.9" cy="422.9" r="1.95"/>
<circle cx="108.4" cy="386.8" r="1.95"/>
<circle cx="110.1" cy="397.8" r="1.95"/>
<circle cx="106.2" cy="397.3" r="1.95"/>
<circle cx="103.1" cy="436.5" r="1.95"/>
<circle cx="107.9" cy="436.2" r="1.95"/>
<circle cx="111.1" cy="430.1" r="1.95"/>
<circle cx="105.8" cy="431.4" r="1.95"/>
<circle cx="103" cy="423.4" r="1.95"/>
<circle cx="116.4" cy="412.6" r="1.95"/>
<circle cx="119.2" cy="412" r="1.95"/>
<circle cx="112" cy="410.3" r="1.95"/>
<circle cx="105.1" cy="410.2" r="1.95"/>
<circle cx="107.8" cy="385.2" r="1.95"/>
<circle cx="115" cy="382.7" r="1.95"/>
<circle cx="101.3" cy="432.9" r="1.95"/>
<circle cx="117.7" cy="386.5" r="1.95"/>
<circle cx="107.3" cy="383.2" r="1.95"/>
<circle cx="110.1" cy="385.1" r="1.95"/>
<circle cx="108.8" cy="419" r="1.95"/>
<circle cx="102.7" cy="429.2" r="1.95"/>
<circle cx="107.8" cy="396.3" r="1.95"/>
<circle cx="102.6" cy="412.3" r="1.95"/>
<circle cx="111" cy="423.5" r="1.95"/>
<circle cx="109" cy="413.1" r="1.95"/>
<circle cx="113" cy="403" r="1.95"/>
<circle cx="118.4" cy="399" r="1.95"/>
<circle cx="110.6" cy="419.3" r="1.95"/>
<circle cx="106.6" cy="427.8" r="1.95"/>
<circle cx="103.1" cy="406.7" r="1.95"/>
<circle cx="114" cy="396.5" r="1.95"/>
<circle cx="115.5" cy="407.4" r="1.95"/>
<circle cx="113.8" cy="405.7" r="1.95"/>
<circle cx="105.9" cy="390.8" r="1.95"/>
<circle cx="107" cy="407.1" r="1.95"/>
<circle cx="106.2" cy="412.5" r="1.95"/>
<circle cx="103.3" cy="394.5" r="1.95"/>
<circle cx="104.9" cy="419.2" r="1.95"/>
<circle cx="111.3" cy="386.7" r="1.95"/>
<circle cx="104.5" cy="433.3" r="1.95"/>
<circle cx="112.4" cy="418.1" r="1.95"/>
<circle cx="114.2" cy="432.1" r="1.95"/>
<circle cx="115.2" cy="418.5" r="1.95"/>
<circle cx="108.4" cy="401" r="1.95"/>
<circle cx="118.1" cy="390.7" r="1.95"/>
<circle cx="114.9" cy="409.1" r="1.95"/>
<circle cx="111.3" cy="399.4" r="1.95"/>
<circle cx="105.9" cy="426.1" r="1.95"/>
<circle cx="101.1" cy="405.6" r="1.95"/>
<circle cx="118.7" cy="410.3" r="1.95"/>
<circle cx="105.6" cy="414.4" r="1.95"/>
<circle cx="102.5" cy="389.9" r="1.95"/>
<circle cx="110.1" cy="390.4" r="1.95"/>
<circle cx="114.5" cy="412.8" r="1.95"/>
<circle cx="106.7" cy="389.1" r="1.95"/>
<circle cx="105.1" cy="436.8" r="1.95"/>
<circle cx="111.6" cy="382.8" r="1.95"/>
<circle cx="114.2" cy="392.7" r="1.95"/>
<circle cx="106.4" cy="386.2" r="1.95"/>
<circle cx="107.5" cy="430.7" r="1.95"/>
<circle cx="108.4" cy="423.9" r="1.95"/>
<circle cx="113" cy="388.1" r="1.95"/>
<circle cx="109.4" cy="406.6" r="1.95"/>
<circle cx="102.3" cy="427.4" r="1.95"/>
<circle cx="102.1" cy="434.8" r="1.95"/>
<circle cx="114.4" cy="424.3" r="1.95"/>
<circle cx="109.4" cy="427.2" r="1.95"/>
<circle cx="108.8" cy="393.5" r="1.95"/>
<circle cx="119.1" cy="395" r="1.95"/>
<circle cx="113.7" cy="434.1" r="1.95"/>
<circle cx="109.6" cy="399.6" r="1.95"/>
<circle cx="109.5" cy="383.1" r="1.95"/>
<circle cx="107.2" cy="419.8" r="1.95"/>
<circle cx="115.6" cy="416.7" r="1.95"/>
<circle cx="116.3" cy="389.6" r="1.95"/>
<circle cx="108.3" cy="417.2" r="1.95"/>
<circle cx="109.6" cy="435.2" r="1.95"/>
<circle cx="101.2" cy="408.3" r="1.95"/>
<circle cx="102.6" cy="392.9" r="1.95"/>
<circle cx="119.2" cy="392.9" r="1.95"/>
<circle cx="104.6" cy="422.7" r="1.95"/>
<circle cx="108.4" cy="398.2" r="1.95"/>
<circle cx="112" cy="428.5" r="1.95"/>
<circle cx="106.8" cy="432.9" r="1.95"/>
<circle cx="117.1" cy="403.2" r="1.95"/>
<circle cx="113.6" cy="394.7" r="1.95"/>
<circle cx="110.5" cy="409.3" r="1.95"/>
<circle cx="103.5" cy="329" r="1.95"/>
<circle cx="107.8" cy="352.6" r="1.95"/>
<circle cx="115.2" cy="362.6" r="1.95"/>
<circle cx="111.6" cy="372.1" r="1.95"/>
<circle cx="110.9" cy="378.5" r="1.95"/>
<circle cx="103.3" cy="380.4" r="1.95"/>
<circle cx="108.1" cy="380.9" r="1.95"/>
<circle cx="113.3" cy="381.8" r="1.95"/>
<circle cx="102.4" cy="384.5" r="1.95"/>
<circle cx="119.5" cy="388" r="1.95"/>
<circle cx="122.5" cy="413" r="1.95"/>
<circle cx="116.6" cy="434.3" r="1.95"/>
<circle cx="100.5" cy="435.7" r="1.95"/>
<circle cx="104.3" cy="435.7" r="1.95"/>
<circle cx="107.6" cy="436.7" r="1.95"/>
<circle cx="114.2" cy="438.6" r="1.95"/>
<circle cx="103.3" cy="439.5" r="1.95"/>
<circle cx="109" cy="441.9" r="1.95"/>
<circle cx="115.2" cy="441.9" r="1.95"/>
<circle cx="102.8" cy="442.8" r="1.95"/>
<circle cx="101.9" cy="444.7" r="1.95"/>
<circle cx="104.3" cy="445.7" r="1.95"/>
<circle cx="117.1" cy="446" r="1.95"/>
<circle cx="110" cy="447.1" r="1.95"/>
<circle cx="100.5" cy="447.6" r="1.95"/>
<circle cx="103.3" cy="448.1" r="1.95"/>
<circle cx="101.2" cy="451.4" r="1.95"/>
<circle cx="102.4" cy="455.5" r="1.95"/>
<circle cx="107.3" cy="455.2" r="1.95"/>
<circle cx="104.1" cy="461.8" r="1.95"/>
<circle cx="105.2" cy="466.6" r="1.95"/>
<circle cx="110.6" cy="476.1" r="1.95"/>
<circle cx="101.5" cy="437.6" r="1.95"/>
<circle cx="103.6" cy="437.9" r="1.95"/>
<circle cx="105.6" cy="438.4" r="1.95"/>
<circle cx="102" cy="440.6" r="1.95"/>
<circle cx="104.6" cy="441.2" r="1.95"/>
<circle cx="106.6" cy="440.2" r="1.95"/>
<circle cx="101.2" cy="442.6" r="1.95"/>
<circle cx="104.9" cy="443.4" r="1.95"/>
<circle cx="103" cy="445.6" r="1.95"/>
<circle cx="105.6" cy="446.2" r="1.95"/>
<circle cx="102.2" cy="446.9" r="1.95"/>
<circle cx="106.4" cy="443.8" r="1.95"/>
<circle cx="112.2" cy="433.9" r="1.95"/>
<circle cx="113.3" cy="436.8" r="1.95"/>
</g>
<path d="M60.3 405.3H267.6M163.95 345.3V476" stroke="#1c1c1c" stroke-width="1.25" stroke-dasharray="3.4 1.2 1.2 1.2" fill="none"/>
<circle cx="163.95" cy="405.3" r="1.9" fill="#000"/>
<text x="169.15" y="407.3" font-size="11" font-weight="bold" textLength="22.6" lengthAdjust="spacingAndGlyphs">(1,1)</text>
<text x="60.3" y="493.5" font-size="12" font-weight="bold" text-anchor="middle">0</text>
<text x="112.12" y="493.5" font-size="12" font-weight="bold" text-anchor="middle">0.5</text>
<text x="163.95" y="493.5" font-size="12" font-weight="bold" text-anchor="middle">1</text>
<text x="215.78" y="493.5" font-size="12" font-weight="bold" text-anchor="middle">1.5</text>
<text x="267.6" y="493.5" font-size="12" font-weight="bold" text-anchor="middle">2</text>
<text x="36.4" y="275.7" font-size="12" font-weight="bold">10<tspan font-size="9.2" dx="0.5" dy="-6">1</tspan></text>
<text x="36.4" y="411.8" font-size="12" font-weight="bold">10<tspan font-size="9.2" dx="0.5" dy="-6">0</tspan></text>
<text x="131.65" y="512.2" font-size="14" font-weight="bold" textLength="64" lengthAdjust="spacingAndGlyphs">D<tspan font-size="11.3" dy="7.2">near</tspan><tspan dy="-7.2">/<tspan dx="0.5">D</tspan></tspan><tspan font-size="11.3" dy="7.2">far</tspan></text>
<text transform="translate(24.1 406) rotate(-90)" font-size="14" font-weight="bold" textLength="66" lengthAdjust="spacingAndGlyphs">F<tspan font-size="11.3" dy="7.2">near</tspan><tspan dy="-7.2">/<tspan dx="0.5">F</tspan></tspan><tspan font-size="11.3" dy="7.2">far</tspan></text>
<text x="75.6" y="287.2" font-size="13" font-weight="bold">(c)</text>
<g class="t">
<text x="195.3" y="281.8" font-size="10.67" textLength="22" lengthAdjust="spacingAndGlyphs">near</text>
<text x="235.5" y="281.8" font-size="10.67" textLength="12.6" lengthAdjust="spacingAndGlyphs">far</text>
<text x="163.9" y="297.9" font-size="10.67" textLength="53.2" lengthAdjust="spacingAndGlyphs">AM: 3.3 <tspan font-family="'Liberation Serif', serif" font-style="italic" font-size="10.9" stroke="none">μ</tspan>s</text>
<text x="230" y="297.9" font-size="10.67" textLength="29.8" lengthAdjust="spacingAndGlyphs">3.5 <tspan font-family="'Liberation Serif', serif" font-style="italic" font-size="10.9" stroke="none">μ</tspan>s</text>
<text x="163.9" y="317.5" font-size="10.67" textLength="53.8" lengthAdjust="spacingAndGlyphs">GM: 2.9 <tspan font-family="'Liberation Serif', serif" font-style="italic" font-size="10.9" stroke="none">μ</tspan>s</text>
<text x="230" y="317.5" font-size="10.67" textLength="29.8" lengthAdjust="spacingAndGlyphs">3.2 <tspan font-family="'Liberation Serif', serif" font-style="italic" font-size="10.9" stroke="none">μ</tspan>s</text>
<text y="337.6" font-size="10.9"><tspan x="94.7" textLength="61.3" lengthAdjust="spacingAndGlyphs">Proportion(F</tspan><tspan x="155.5" dy="4.9" font-size="8.7">near</tspan><tspan x="172.1" dy="-4.9">/<tspan dx="0.9">F</tspan></tspan><tspan x="184" dy="4.9" font-size="8.7">far</tspan><tspan x="194" dy="-4.9">&gt;1)<tspan font-family="'Liberation Sans', 'Noto Sans CJK SC', sans-serif">：</tspan></tspan><tspan x="220.1">36.8%</tspan></text>
</g>
</g>
<g id="panel-d">
<rect x="332.5" y="269.2" width="207.5" height="206.8" fill="none" stroke="#606060" stroke-width="0.8"/>
<path d="M384.38 476v-2.1M384.38 269.2v2.1M436.25 476v-2.1M436.25 269.2v2.1M488.12 476v-2.1M488.12 269.2v2.1M332.5 474.42h1.1M540 474.42h-1.1M332.5 460.19h1.1M540 460.19h-1.1M332.5 448.57h1.1M540 448.57h-1.1M332.5 438.74h1.1M540 438.74h-1.1M332.5 430.23h1.1M540 430.23h-1.1M332.5 422.72h1.1M540 422.72h-1.1M332.5 416h2.1M540 416h-2.1M332.5 371.81h1.1M540 371.81h-1.1M332.5 345.96h1.1M540 345.96h-1.1M332.5 327.62h1.1M540 327.62h-1.1M332.5 313.39h1.1M540 313.39h-1.1M332.5 301.77h1.1M540 301.77h-1.1M332.5 291.94h1.1M540 291.94h-1.1M332.5 283.43h1.1M540 283.43h-1.1M332.5 275.92h1.1M540 275.92h-1.1" stroke="#606060" stroke-width="0.6" fill="none"/>
<g fill="#0a72bd">
<circle cx="379.1" cy="406" r="1.95"/>
<circle cx="387.2" cy="409.1" r="1.95"/>
<circle cx="382.2" cy="411.7" r="1.95"/>
<circle cx="375.2" cy="442.4" r="1.95"/>
<circle cx="388.6" cy="436.7" r="1.95"/>
<circle cx="377.3" cy="428.2" r="1.95"/>
<circle cx="389.7" cy="402.7" r="1.95"/>
<circle cx="383.7" cy="430.4" r="1.95"/>
<circle cx="381.5" cy="407" r="1.95"/>
<circle cx="380.8" cy="402.9" r="1.95"/>
<circle cx="381.6" cy="418.2" r="1.95"/>
<circle cx="383.6" cy="419" r="1.95"/>
<circle cx="388.2" cy="400.7" r="1.95"/>
<circle cx="376.6" cy="423.9" r="1.95"/>
<circle cx="380.8" cy="414.8" r="1.95"/>
<circle cx="379.5" cy="408.2" r="1.95"/>
<circle cx="384.3" cy="411.7" r="1.95"/>
<circle cx="378.3" cy="433.9" r="1.95"/>
<circle cx="375.7" cy="414.3" r="1.95"/>
<circle cx="374.4" cy="420.3" r="1.95"/>
<circle cx="386.5" cy="444" r="1.95"/>
<circle cx="376.9" cy="407.7" r="1.95"/>
<circle cx="377.7" cy="399.1" r="1.95"/>
<circle cx="387.6" cy="415.8" r="1.95"/>
<circle cx="376.8" cy="403.2" r="1.95"/>
<circle cx="385.3" cy="405.7" r="1.95"/>
<circle cx="375.9" cy="445.7" r="1.95"/>
<circle cx="387.4" cy="418" r="1.95"/>
<circle cx="375.8" cy="418" r="1.95"/>
<circle cx="375.9" cy="440.6" r="1.95"/>
<circle cx="388.6" cy="422.2" r="1.95"/>
<circle cx="384.3" cy="425.5" r="1.95"/>
<circle cx="389.6" cy="424.6" r="1.95"/>
<circle cx="385.1" cy="414.3" r="1.95"/>
<circle cx="380.8" cy="423.5" r="1.95"/>
<circle cx="383.5" cy="421.7" r="1.95"/>
<circle cx="387.2" cy="423.3" r="1.95"/>
<circle cx="387.7" cy="413.3" r="1.95"/>
<circle cx="375.6" cy="421.6" r="1.95"/>
<circle cx="380" cy="439.1" r="1.95"/>
<circle cx="379.7" cy="436.3" r="1.95"/>
<circle cx="374.1" cy="439.9" r="1.95"/>
<circle cx="377.3" cy="441.7" r="1.95"/>
<circle cx="388.1" cy="407" r="1.95"/>
<circle cx="390.2" cy="416.2" r="1.95"/>
<circle cx="383.1" cy="415.2" r="1.95"/>
<circle cx="384" cy="403.1" r="1.95"/>
<circle cx="374.4" cy="429.5" r="1.95"/>
<circle cx="377.6" cy="412.8" r="1.95"/>
<circle cx="383" cy="442.9" r="1.95"/>
<circle cx="379.4" cy="426.9" r="1.95"/>
<circle cx="377.3" cy="409.5" r="1.95"/>
<circle cx="379.2" cy="417.6" r="1.95"/>
<circle cx="379.5" cy="399.3" r="1.95"/>
<circle cx="374.5" cy="424.1" r="1.95"/>
<circle cx="374.1" cy="436" r="1.95"/>
<circle cx="384.8" cy="443.6" r="1.95"/>
<circle cx="384.6" cy="441" r="1.95"/>
<circle cx="383.7" cy="423.5" r="1.95"/>
<circle cx="387.5" cy="441.5" r="1.95"/>
<circle cx="381.6" cy="398.7" r="1.95"/>
<circle cx="386.5" cy="400.3" r="1.95"/>
<circle cx="377" cy="431.3" r="1.95"/>
<circle cx="377.9" cy="420.2" r="1.95"/>
<circle cx="374.4" cy="432.6" r="1.95"/>
<circle cx="377.7" cy="445.1" r="1.95"/>
<circle cx="374.4" cy="427.7" r="1.95"/>
<circle cx="377.6" cy="414.7" r="1.95"/>
<circle cx="376.5" cy="426.4" r="1.95"/>
<circle cx="382.4" cy="426.1" r="1.95"/>
<circle cx="382.6" cy="409.2" r="1.95"/>
<circle cx="379.1" cy="410.1" r="1.95"/>
<circle cx="387.7" cy="403.2" r="1.95"/>
<circle cx="386.6" cy="425" r="1.95"/>
<circle cx="379.1" cy="402.7" r="1.95"/>
<circle cx="387.1" cy="420.8" r="1.95"/>
<circle cx="386.7" cy="411.9" r="1.95"/>
<circle cx="378.1" cy="422.6" r="1.95"/>
<circle cx="384.1" cy="407.5" r="1.95"/>
<circle cx="389.5" cy="413" r="1.95"/>
<circle cx="384.4" cy="409.3" r="1.95"/>
<circle cx="383.1" cy="432.1" r="1.95"/>
<circle cx="385.8" cy="418.9" r="1.95"/>
<circle cx="382.8" cy="440.2" r="1.95"/>
<circle cx="379" cy="424.3" r="1.95"/>
<circle cx="388.5" cy="434.9" r="1.95"/>
<circle cx="385.9" cy="407.6" r="1.95"/>
<circle cx="381.5" cy="421.7" r="1.95"/>
<circle cx="383.6" cy="427.5" r="1.95"/>
<circle cx="374.3" cy="416.8" r="1.95"/>
<circle cx="380.8" cy="445.3" r="1.95"/>
<circle cx="381.7" cy="435.1" r="1.95"/>
<circle cx="379.7" cy="419.8" r="1.95"/>
<circle cx="375.8" cy="433.7" r="1.95"/>
<circle cx="388.2" cy="439.7" r="1.95"/>
<circle cx="375.7" cy="410.9" r="1.95"/>
<circle cx="376.3" cy="405" r="1.95"/>
<circle cx="388.2" cy="445.1" r="1.95"/>
<circle cx="382.1" cy="413.7" r="1.95"/>
<circle cx="374.7" cy="425.9" r="1.95"/>
<circle cx="389.7" cy="420.4" r="1.95"/>
<circle cx="381.1" cy="405.2" r="1.95"/>
<circle cx="380.7" cy="425.4" r="1.95"/>
<circle cx="382.3" cy="436.9" r="1.95"/>
<circle cx="389.1" cy="405.2" r="1.95"/>
<circle cx="384.5" cy="416.6" r="1.95"/>
<circle cx="380.3" cy="412" r="1.95"/>
<circle cx="388.7" cy="429.5" r="1.95"/>
<circle cx="372.8" cy="419" r="1.95"/>
<circle cx="377.6" cy="401" r="1.95"/>
<circle cx="379.2" cy="413.8" r="1.95"/>
<circle cx="390.2" cy="418.4" r="1.95"/>
<circle cx="385.4" cy="422.4" r="1.95"/>
<circle cx="387.7" cy="398.8" r="1.95"/>
<circle cx="385" cy="434.7" r="1.95"/>
<circle cx="383.3" cy="434" r="1.95"/>
<circle cx="383.5" cy="445.7" r="1.95"/>
<circle cx="386.5" cy="404.5" r="1.95"/>
<circle cx="380.7" cy="401" r="1.95"/>
<circle cx="382" cy="428.9" r="1.95"/>
<circle cx="373.7" cy="422.1" r="1.95"/>
<circle cx="380.1" cy="434.2" r="1.95"/>
<circle cx="378.3" cy="404.4" r="1.95"/>
<circle cx="380.9" cy="409.9" r="1.95"/>
<circle cx="378.4" cy="440" r="1.95"/>
<circle cx="388.7" cy="410.6" r="1.95"/>
<circle cx="374.4" cy="437.8" r="1.95"/>
<circle cx="389.7" cy="407.8" r="1.95"/>
<circle cx="386.3" cy="445.8" r="1.95"/>
<circle cx="390.6" cy="422.3" r="1.95"/>
<circle cx="388.5" cy="426.2" r="1.95"/>
<circle cx="373.2" cy="434.3" r="1.95"/>
<circle cx="374.9" cy="412.5" r="1.95"/>
<circle cx="384.9" cy="420.4" r="1.95"/>
<circle cx="383.5" cy="404.9" r="1.95"/>
<circle cx="375.4" cy="409.1" r="1.95"/>
<circle cx="376" cy="444" r="1.95"/>
<circle cx="377.3" cy="417.1" r="1.95"/>
<circle cx="386.1" cy="402.1" r="1.95"/>
<circle cx="381.6" cy="433.3" r="1.95"/>
<circle cx="386.4" cy="439.9" r="1.95"/>
<circle cx="376.1" cy="400.1" r="1.95"/>
<circle cx="379.6" cy="421.7" r="1.95"/>
<circle cx="381.8" cy="438.8" r="1.95"/>
<circle cx="382.1" cy="420" r="1.95"/>
<circle cx="380.7" cy="416.6" r="1.95"/>
<circle cx="379.2" cy="415.5" r="1.95"/>
<circle cx="373.1" cy="426.5" r="1.95"/>
<circle cx="376.2" cy="419.8" r="1.95"/>
<circle cx="386.7" cy="435.1" r="1.95"/>
<circle cx="379.8" cy="363.1" r="1.95"/>
<circle cx="381.1" cy="364.5" r="1.95"/>
<circle cx="392.1" cy="368.3" r="1.95"/>
<circle cx="380.4" cy="369.5" r="1.95"/>
<circle cx="381.1" cy="375" r="1.95"/>
<circle cx="379" cy="376.9" r="1.95"/>
<circle cx="384.2" cy="378.8" r="1.95"/>
<circle cx="382.8" cy="388.3" r="1.95"/>
<circle cx="374.3" cy="389.7" r="1.95"/>
<circle cx="379" cy="390.6" r="1.95"/>
<circle cx="383.3" cy="391.6" r="1.95"/>
<circle cx="387.6" cy="394" r="1.95"/>
<circle cx="375.2" cy="394.9" r="1.95"/>
<circle cx="382.3" cy="394.4" r="1.95"/>
<circle cx="372.8" cy="396.8" r="1.95"/>
<circle cx="380.4" cy="397.3" r="1.95"/>
<circle cx="386.6" cy="396.8" r="1.95"/>
<circle cx="389.9" cy="399.7" r="1.95"/>
<circle cx="375.2" cy="400.6" r="1.95"/>
<circle cx="391.8" cy="402" r="1.95"/>
<circle cx="394.4" cy="410.5" r="1.95"/>
<circle cx="392.8" cy="424.5" r="1.95"/>
<circle cx="374.3" cy="444.3" r="1.95"/>
<circle cx="384.2" cy="445.2" r="1.95"/>
<circle cx="380.4" cy="447.1" r="1.95"/>
<circle cx="372.4" cy="449.5" r="1.95"/>
<circle cx="380.9" cy="449.5" r="1.95"/>
<circle cx="374.3" cy="451.9" r="1.95"/>
<circle cx="379.5" cy="451.9" r="1.95"/>
<circle cx="382.8" cy="452.4" r="1.95"/>
<circle cx="373.3" cy="453.8" r="1.95"/>
<circle cx="376.2" cy="454.7" r="1.95"/>
<circle cx="385.4" cy="457.1" r="1.95"/>
<circle cx="375.7" cy="458.5" r="1.95"/>
<circle cx="387.9" cy="470.6" r="1.95"/>
<circle cx="379" cy="476.1" r="1.95"/>
</g>
<path d="M332.5 416H540M436.25 351.8V476" stroke="#1c1c1c" stroke-width="1.25" stroke-dasharray="3.4 1.2 1.2 1.2" fill="none"/>
<circle cx="436.25" cy="416" r="1.9" fill="#000"/>
<text x="441.45" y="418" font-size="11" font-weight="bold" textLength="22.6" lengthAdjust="spacingAndGlyphs">(1,1)</text>
<text x="332.5" y="493.5" font-size="12" font-weight="bold" text-anchor="middle">0</text>
<text x="384.38" y="493.5" font-size="12" font-weight="bold" text-anchor="middle">0.5</text>
<text x="436.25" y="493.5" font-size="12" font-weight="bold" text-anchor="middle">1</text>
<text x="488.12" y="493.5" font-size="12" font-weight="bold" text-anchor="middle">1.5</text>
<text x="540" y="493.5" font-size="12" font-weight="bold" text-anchor="middle">2</text>
<text x="308.6" y="275.7" font-size="12" font-weight="bold">10<tspan font-size="9.2" dx="0.5" dy="-6">1</tspan></text>
<text x="308.6" y="422.5" font-size="12" font-weight="bold">10<tspan font-size="9.2" dx="0.5" dy="-6">0</tspan></text>
<text x="403.95" y="512.2" font-size="14" font-weight="bold" textLength="64" lengthAdjust="spacingAndGlyphs">D<tspan font-size="11.3" dy="7.2">near</tspan><tspan dy="-7.2">/<tspan dx="0.5">D</tspan></tspan><tspan font-size="11.3" dy="7.2">far</tspan></text>
<text transform="translate(296.3 406) rotate(-90)" font-size="14" font-weight="bold" textLength="66" lengthAdjust="spacingAndGlyphs">P<tspan font-size="11.3" dy="7.2">near</tspan><tspan dy="-7.2">/<tspan dx="0.5">P</tspan></tspan><tspan font-size="11.3" dy="7.2">far</tspan></text>
<text x="347.1" y="288" font-size="13" font-weight="bold">(d)</text>
<g class="t">
<text x="467.1" y="281.6" font-size="10.67" textLength="22" lengthAdjust="spacingAndGlyphs">near</text>
<text x="507.9" y="281.6" font-size="10.67" textLength="12.6" lengthAdjust="spacingAndGlyphs">far</text>
<text x="435.9" y="298.9" font-size="10.67" textLength="52.8" lengthAdjust="spacingAndGlyphs">AM: 7.4 <tspan font-family="'Liberation Serif', serif" font-style="italic" font-size="10.9" stroke="none">μ</tspan>s</text>
<text x="502.2" y="298.9" font-size="10.67" textLength="30" lengthAdjust="spacingAndGlyphs">7.5 <tspan font-family="'Liberation Serif', serif" font-style="italic" font-size="10.9" stroke="none">μ</tspan>s</text>
<text x="435.9" y="320.8" font-size="10.67" textLength="53.6" lengthAdjust="spacingAndGlyphs">GM: 6.4 <tspan font-family="'Liberation Serif', serif" font-style="italic" font-size="10.9" stroke="none">μ</tspan>s</text>
<text x="502.2" y="320.8" font-size="10.67" textLength="30" lengthAdjust="spacingAndGlyphs">6.7 <tspan font-family="'Liberation Serif', serif" font-style="italic" font-size="10.9" stroke="none">μ</tspan>s</text>
<text y="342.2" font-size="10.9"><tspan x="363.6" textLength="61.92" lengthAdjust="spacingAndGlyphs">Proportion(P</tspan><tspan x="425" dy="4.9" font-size="8.7">near</tspan><tspan x="442.4" dy="-4.9">/<tspan dx="0.9">P</tspan></tspan><tspan x="454" dy="4.9" font-size="8.7">far</tspan><tspan x="464" dy="-4.9">&gt;1)<tspan font-family="'Liberation Sans', 'Noto Sans CJK SC', sans-serif">：</tspan></tspan><tspan x="490.5">42.5%</tspan></text>
</g>
</g>
</svg>
</body></html>
